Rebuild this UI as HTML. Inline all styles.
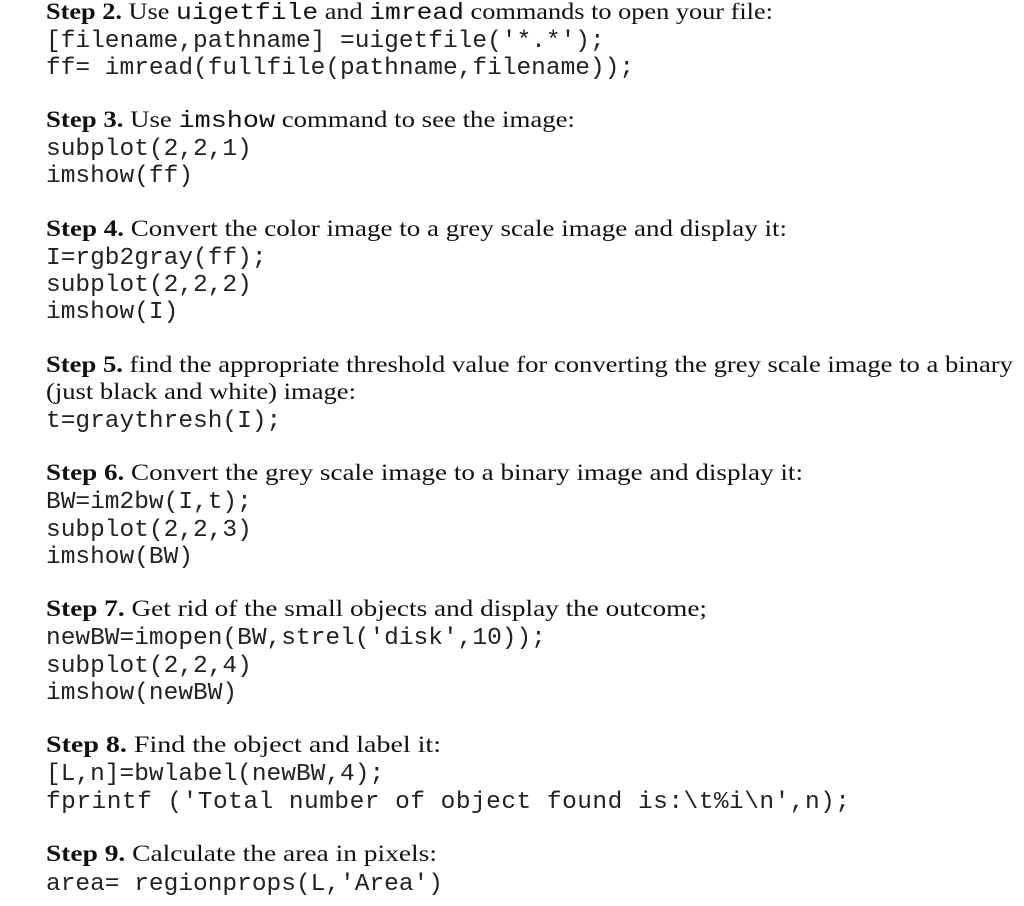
<!DOCTYPE html>
<html><head><meta charset="utf-8"><style>
html,body{margin:0;padding:0;background:#fff;}
svg{display:block}
.s{font-family:"Liberation Serif",serif;font-size:23px;fill:#111}
.b{font-weight:bold}
.m{font-family:"Liberation Mono",monospace;font-size:24.5px;fill:#222}
</style></head><body>
<svg width="1024" height="906" viewBox="0 0 1024 906" xmlns="http://www.w3.org/2000/svg">
<text class="s" x="46" y="19" textLength="727" lengthAdjust="spacingAndGlyphs"><tspan class="b">Step 2.</tspan> Use <tspan font-family="Liberation Mono">uigetfile</tspan> and <tspan font-family="Liberation Mono">imread</tspan> commands to open your file:</text>
<text class="m" x="46" y="47">[filename,pathname] =uigetfile('*.*');</text>
<text class="m" x="46" y="74">ff= imread(fullfile(pathname,filename));</text>

<text class="s" x="46" y="127" textLength="529" lengthAdjust="spacingAndGlyphs"><tspan class="b">Step 3.</tspan> Use <tspan font-family="Liberation Mono">imshow</tspan> command to see the image:</text>
<text class="m" x="46" y="155">subplot(2,2,1)</text>
<text class="m" x="46" y="182">imshow(ff)</text>

<text class="s" x="46" y="236" textLength="741" lengthAdjust="spacingAndGlyphs"><tspan class="b">Step 4.</tspan> Convert the color image to a grey scale image and display it:</text>
<text class="m" x="46" y="264">I=rgb2gray(ff);</text>
<text class="m" x="46" y="291">subplot(2,2,2)</text>
<text class="m" x="46" y="318">imshow(I)</text>

<text class="s" x="46" y="372" textLength="967" lengthAdjust="spacingAndGlyphs"><tspan class="b">Step 5.</tspan> find the appropriate threshold value for converting the grey scale image to a binary</text>
<text class="s" x="46" y="399" textLength="310" lengthAdjust="spacingAndGlyphs">(just black and white) image:</text>
<text class="m" x="46" y="427">t=graythresh(I);</text>

<text class="s" x="46" y="480" textLength="757" lengthAdjust="spacingAndGlyphs"><tspan class="b">Step 6.</tspan> Convert the grey scale image to a binary image and display it:</text>
<text class="m" x="46" y="508">BW=im2bw(I,t);</text>
<text class="m" x="46" y="536">subplot(2,2,3)</text>
<text class="m" x="46" y="563">imshow(BW)</text>

<text class="s" x="46" y="616" textLength="661" lengthAdjust="spacingAndGlyphs"><tspan class="b">Step 7.</tspan> Get rid of the small objects and display the outcome;</text>
<text class="m" x="46" y="644">newBW=imopen(BW,strel('disk',10));</text>
<text class="m" x="46" y="672">subplot(2,2,4)</text>
<text class="m" x="46" y="699">imshow(newBW)</text>

<text class="s" x="46" y="752" textLength="395" lengthAdjust="spacingAndGlyphs"><tspan class="b">Step 8.</tspan> Find the object and label it:</text>
<text class="m" x="46" y="780">[L,n]=bwlabel(newBW,4);</text>
<text class="m" x="46" y="808" textLength="804" lengthAdjust="spacing">fprintf ('Total number of object found is:\t%i\n',n);</text>

<text class="s" x="46" y="861" textLength="391" lengthAdjust="spacingAndGlyphs"><tspan class="b">Step 9.</tspan> Calculate the area in pixels:</text>
<text class="m" x="46" y="890">area= regionprops(L,'Area')</text>
</svg>
</body></html>
